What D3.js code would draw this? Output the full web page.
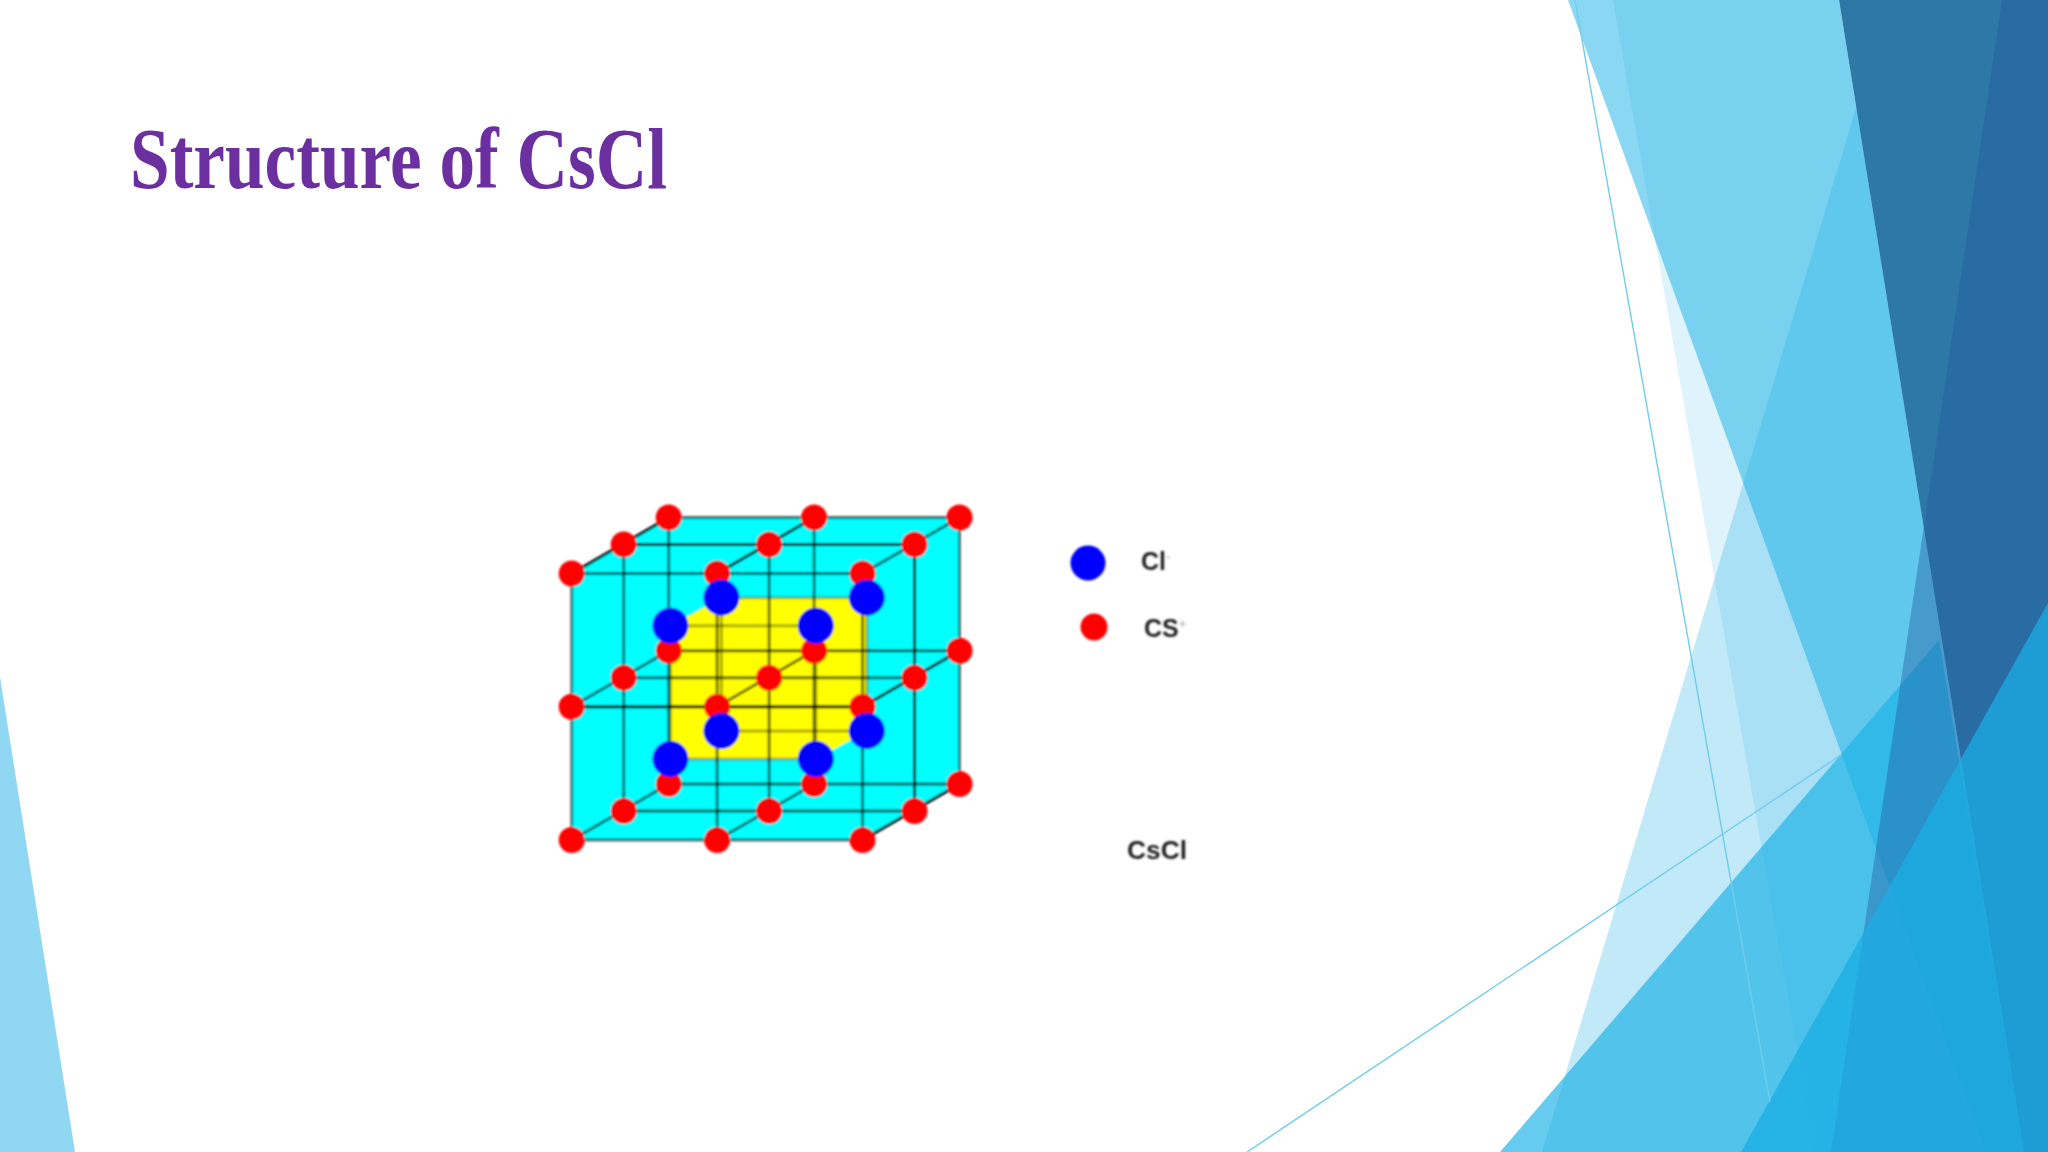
<!DOCTYPE html>
<html>
<head>
<meta charset="utf-8">
<title>Structure of CsCl</title>
<script src="https://d3js.org/d3.v7.min.js"></script>
<style>
    html, body { margin: 0; padding: 0; background: #fff; overflow: hidden; }
    svg { display: block; }
</style>
</head>
<body>
<svg id="slide" width="2048" height="1152"></svg>
<script>
// Slide background facets, painted in this order
var facetNames = ["left", "top", "pale", "tall", "low", "dark", "darker", "corner"];
var facetPoints = [
    [[0, 677], [75, 1152], [0, 1152]],
    [[1568, 0], [1839, 0], [2024, 1152], [1986, 1152]],
    [[1857, 105], [2024, 1152], [1542, 1152]],
    [[1613, 0], [1839, 0], [2024, 1152], [1815, 1152]],
    [[1500, 1152], [1939, 640], [2024, 1152]],
    [[1839, 0], [2048, 0], [2048, 1152], [2024, 1152]],
    [[2002, 0], [2048, 0], [2048, 1152], [1831, 1152]],
    [[2048, 603], [2048, 1152], [1741, 1152]]
];
var facetColors = ["#1fb0e6", "#1cb2e8", "#1fb0e6", "#1fb0e6", "#1bb2e6", "#2e78a8", "#24589a", "#1aaee4"];
var facetAlphas = [0.5, 0.52, 0.28, 0.15, 0.67, 1, 0.4, 0.76];
var thinLines = [
    [[1575, 0], [1770, 1102]],
    [[1247, 1152], [1841, 755]]
];

// Lattice positions, in units of the cell
var latticeSteps = [0, 1, 2];
var centreSteps = [0.5, 1.5];
// Lines that come out darker in the picture: axis, then the two fixed indices
var strongLines = [["x", 1, 0], ["y", 2, 1], ["z", 2, 2], ["z", 2, 1], ["z", 0, 0], ["z", 1, 0], ["x", 0, 1]];

// Legend
var legendLabels = ["Cl", "CS"];
var legendCharges = ["-", "+"];
var legendColors = ["#0000ff", "#ff0000"];
var formulaLabel = "CsCl";
var titleText = "Structure of CsCl";

var svg = d3.select("#slide");
var line = d3.line();

var defs = svg.append("defs");
defs.append("filter").attr("id", "soft").append("feGaussianBlur").attr("stdDeviation", 0.8);
defs.append("filter").attr("id", "softText").append("feGaussianBlur").attr("stdDeviation", 0.9);

// Background
svg.append("g").selectAll("path")
    .data(facetNames)
    .enter().append("path")
    .attr("d", (d, i) => line(facetPoints[i]) + "Z")
    .attr("fill", (d, i) => facetColors[i])
    .attr("fill-opacity", (d, i) => facetAlphas[i]);

svg.append("g").selectAll("path")
    .data(thinLines)
    .enter().append("path")
    .attr("d", d => line(d))
    .attr("fill", "none")
    .attr("stroke", "#6fcdec")
    .attr("stroke-width", 1.4);

// Title
svg.append("text")
    .attr("x", 130)
    .attr("y", 188)
    .attr("textLength", 537)
    .attr("lengthAdjust", "spacingAndGlyphs")
    .style("font-family", "'Liberation Serif'")
    .style("font-weight", "bold")
    .style("font-size", "86px")
    .style("fill", "#6b2fa0")
    .text(titleText);

// Crystal, projected from cell units to the page
var x = d3.scaleLinear().domain([0, 2]).range([571.7, 862.5]);
var y = d3.scaleLinear().domain([0, 2]).range([573.5, 840]);
var depthX = d3.scaleLinear().domain([0, 1, 1.5, 2]).range([0, 52, 77, 97]);
var depthY = d3.scaleLinear().domain([0, 1, 2]).range([0, -29, -56]);
var px = (i, k) => x(i) + depthX(k);
var py = (j, k) => y(j) + depthY(k);
var project = p => [px(p[0], p[2]), py(p[1], p[2])];

var crystal = svg.append("g").attr("filter", "url(#soft)");

// front-left, back-left, back-right, front-right of a cube between a and b
function outline(a, b) {
    return [[a, a, a], [a, a, b], [b, a, b], [b, b, b], [b, b, a], [a, b, a]].map(project);
}

crystal.append("path")
    .attr("d", line(outline(0, 2)) + "Z")
    .attr("fill", "#00ffff");

crystal.append("path")
    .attr("d", line(outline(0.5, 1.5)) + "Z")
    .attr("fill", "#ffff00");

// Grid lines
var gridLines = [];
latticeSteps.forEach(function(a) {
    latticeSteps.forEach(function(b) {
        gridLines.push({axis: "x", a: a, b: b, from: [0, a, b], to: [2, a, b]});
        gridLines.push({axis: "y", a: a, b: b, from: [a, 0, b], to: [a, 2, b]});
        gridLines.push({axis: "z", a: a, b: b, from: [a, b, 0], to: [a, b, 2]});
    });
});

function isStrong(d) {
    return strongLines.some(s => s[0] === d.axis && s[1] === d.a && s[2] === d.b);
}

crystal.append("g").selectAll("line")
    .data(gridLines)
    .enter().append("line")
    .attr("x1", d => project(d.from)[0])
    .attr("y1", d => project(d.from)[1])
    .attr("x2", d => project(d.to)[0])
    .attr("y2", d => project(d.to)[1])
    .attr("stroke", "#000")
    .attr("stroke-width", 2.8)
    .attr("stroke-opacity", d => isStrong(d) ? 1 : 0.6);

// Edges of the inner cube
var innerLines = [];
centreSteps.forEach(function(a) {
    centreSteps.forEach(function(b) {
        innerLines.push({from: [0.5, a, b], to: [1.5, a, b]});
        innerLines.push({from: [a, 0.5, b], to: [a, 1.5, b]});
    });
});

crystal.append("g").selectAll("line")
    .data(innerLines)
    .enter().append("line")
    .attr("x1", d => project(d.from)[0])
    .attr("y1", d => project(d.from)[1])
    .attr("x2", d => project(d.to)[0])
    .attr("y2", d => project(d.to)[1])
    .attr("stroke", "#000")
    .attr("stroke-width", 3)
    .attr("stroke-opacity", 0.32);

// Ions
var csSites = d3.cross(latticeSteps, d3.cross(latticeSteps, latticeSteps)).map(d => [d[0], d[1][0], d[1][1]]);
var clSites = d3.cross(centreSteps, d3.cross(centreSteps, centreSteps)).map(d => [d[0], d[1][0], d[1][1]]);

crystal.append("g").selectAll("circle")
    .data(csSites)
    .enter().append("circle")
    .attr("cx", d => project(d)[0])
    .attr("cy", d => project(d)[1])
    .attr("r", 13)
    .attr("fill", legendColors[1]);

crystal.append("g").selectAll("circle")
    .data(clSites)
    .enter().append("circle")
    .attr("cx", d => project(d)[0])
    .attr("cy", d => project(d)[1])
    .attr("r", 18)
    .attr("fill", legendColors[0]);

// Legend
var legendX = [1088, 1094];
var legendY = d3.scaleLinear().domain([0, 1]).range([563, 627]);
var legendR = [17.5, 13.5];

var legend = svg.append("g").selectAll("g")
    .data(legendLabels)
    .enter().append("g");

legend.append("circle")
    .attr("cx", (d, i) => legendX[i])
    .attr("cy", (d, i) => legendY(i))
    .attr("r", (d, i) => legendR[i])
    .attr("fill", (d, i) => legendColors[i])
    .attr("filter", "url(#soft)");

var legendText = legend.append("text")
    .attr("x", (d, i) => i === 0 ? 1141 : 1144)
    .attr("y", (d, i) => legendY(i) + (i === 0 ? 7 : 10))
    .attr("filter", "url(#softText)")
    .style("font-family", "'Liberation Sans'")
    .style("font-weight", "bold")
    .style("font-size", "25px")
    .style("fill", "#222");

legendText.append("tspan").text(d => d);
legendText.append("tspan")
    .attr("dy", -9)
    .style("font-size", "13px")
    .style("fill", "#bbb")
    .text((d, i) => legendCharges[i]);

svg.append("text")
    .attr("x", 1127)
    .attr("y", 859)
    .attr("textLength", 60)
    .attr("lengthAdjust", "spacingAndGlyphs")
    .attr("filter", "url(#softText)")
    .style("font-family", "'Liberation Sans'")
    .style("font-weight", "bold")
    .style("font-size", "25px")
    .style("fill", "#222")
    .text(formulaLabel);
</script>
</body>
</html>
